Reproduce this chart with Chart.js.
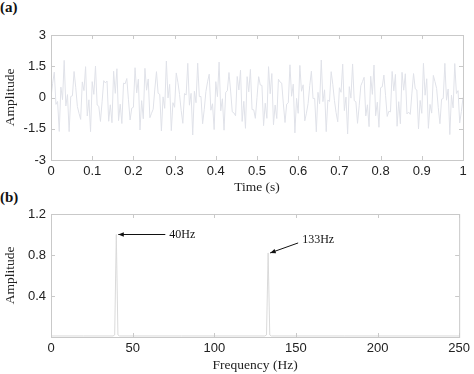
<!DOCTYPE html>
<html>
<head>
<meta charset="utf-8">
<script src="https://cdn.jsdelivr.net/npm/chart.js@4/dist/chart.umd.min.js"></script>
<style>
  html, body { margin: 0; padding: 0; background: #fff; }
  #page { position: relative; width: 474px; height: 374px; overflow: hidden; }
  canvas { position: absolute; left: 0; }
  #chart-a { top: 20px; }
  #chart-b { top: 190px; }
  .tag { position: absolute; left: 0; font: bold 15px "Liberation Serif", serif; color: #111; }
</style>
</head>
<body>
<div id="page">
  <div class="tag" style="top:-1px">(a)</div>
  <div class="tag" style="top:189px">(b)</div>
  <canvas id="chart-a" width="474" height="176"></canvas>
  <canvas id="chart-b" width="474" height="184"></canvas>
</div>
<script>
// --- DATA ---
// (a) time signal, one sample every 4 ms from 0 to 1 s
const sampleStep = 0.004;
const signalValues = [
  0, 0.68, 1.22, -0.33, -0.19, -1.63, 0.50, -0.10, 1.78, -0.41,
  0.14, -1.64, 0.05, 0.08, 1.25, 0.49, -0.43, -0.76, -1.05, 0.75,
  0.33, 1.48, -0.89, -0.11, -1.64, 0.76, 0.15, 1.51, -0.36, -0.42,
  -1.15, -0.21, 0.81, 0.70, 0.79, -1.14, -0.35, -1.21, 1.26, 0.20,
  1.38, -1.11, -0.32, -1.25, 0.69, 0.66, 0.91, -0.11, -1.08, -0.51,
  -0.47, 1.43, 0.22, 0.88, -1.56, -0.15, -1.02, 1.40, 0.35, 0.89,
  -0.97, -0.76, -0.56, 0.40, 1.24, 0.20, 0.15, -1.61, 0.03, -0.52,
  1.75, -0.02, 0.63, -1.59, -0.25, -0.47, 1.18, 0.73, 0.15, -0.63,
  -1.24, 0.19, 0.12, 1.64, -0.37, 0.20, -1.80, 0.30, -0.25, 1.65,
  0.04, 0.05, -1.26, -0.57, 0.29, 0.75, 1.12, -0.61, -0.30, -1.54,
  0.76, 0.04, 1.70, -0.64, -0.06, -1.57, 0.25, 0.32, 1.20, 0.31,
  -0.69, -0.74, -0.88, 1.01, 0.36, 1.31, -1.15, -0.18, -1.48, 1.00,
  0.27, 1.35, -0.58, -0.59, -1.00,
  0, 1.00, 0.60, 0.58, -1.35, -0.27, -1.00, 1.48, 0.18, 1.15,
  -1.31, -0.36, -1.01, 0.88, 0.74, 0.69, -0.31, -1.20, -0.32, -0.25,
  1.57, 0.06, 0.64, -1.70, -0.04, -0.76, 1.54, 0.30, 0.61, -1.12,
  -0.75, -0.29, 0.57, 1.26, -0.05, -0.04, -1.65, 0.25, -0.30, 1.80,
  -0.20, 0.37, -1.64, -0.12, -0.19, 1.24, 0.63, -0.15, -0.73, -1.17,
  0.47, 0.25, 1.60, -0.63, 0.02, -1.75, 0.52, -0.03, 1.61, -0.15,
  -0.20, -1.24, -0.40, 0.56, 0.76, 0.97, -0.89, -0.35, -1.40, 1.02,
  0.15, 1.56, -0.88, -0.22, -1.43, 0.47, 0.51, 1.08, 0.11, -0.91,
  -0.66, -0.69, 1.25, 0.32, 1.11, -1.38, -0.20, -1.26, 1.21, 0.35,
  1.14, -0.79, -0.70, -0.81, 0.21, 1.15, 0.42, 0.36, -1.51, -0.14,
  -0.76, 1.64, 0.11, 0.90, -1.48, -0.33, -0.75, 1.06, 0.76, 0.43,
  -0.49, -1.26, -0.08, -0.05, 1.64, -0.13, 0.41, -1.78, 0.11, -0.50,
  1.63, 0.19, 0.33, -1.22, -0.68, 0
];
const timeTicks = [0, 0.1, 0.2, 0.3, 0.4, 0.5, 0.6, 0.7, 0.8, 0.9, 1];
const amplitudeTicksA = [-3, -1.5, 0, 1.5, 3];

// (b) amplitude spectrum
const spectrumFreqs = [0, 20, 38, 39, 40, 41, 42, 80, 131, 132, 133, 134, 135, 180, 250];
const spectrumAmps  = [0.01, 0.01, 0.01, 0.02, 1.0, 0.02, 0.01, 0.01, 0.01, 0.02, 0.82, 0.02, 0.01, 0.01, 0.01];
const freqTicks = [0, 50, 100, 150, 200, 250];
const amplitudeTicksB = [0, 0.4, 0.8, 1.2];
const peakLabels = ['40Hz', '133Hz'];
const peakFreqs = [40, 133];
const peakAmps = [1.0, 0.82];

// --- STYLE HELPERS ---
const tickFont = { family: '"Liberation Sans", Arial, sans-serif', size: 13 };
const titleFont = { family: '"Liberation Serif", "Times New Roman", serif', size: 13.5 };
const frameColor = '#c9c9c9';

const fmt = v => String(Number(v.toFixed(2)));

/**
 * Draws the gray box around the plot area with small inward tick marks,
 * MATLAB style.
 */
const framePlugin = {
    id: 'frame',
    afterDraw(chart) {
        const { ctx, chartArea: a, scales } = chart;
        ctx.save();
        ctx.strokeStyle = frameColor;
        ctx.lineWidth = 1;
        ctx.strokeRect(a.left + 0.5, a.top + 0.5, a.right - a.left, a.bottom - a.top);
        ctx.beginPath();
        scales.x.ticks.forEach(t => {
            const x = Math.round(scales.x.getPixelForValue(t.value)) + 0.5;
            ctx.moveTo(x, a.bottom); ctx.lineTo(x, a.bottom - 4);
            ctx.moveTo(x, a.top); ctx.lineTo(x, a.top + 4);
        });
        scales.y.ticks.forEach(t => {
            const y = Math.round(scales.y.getPixelForValue(t.value)) + 0.5;
            ctx.moveTo(a.left, y); ctx.lineTo(a.left + 4, y);
            ctx.moveTo(a.right, y); ctx.lineTo(a.right - 4, y);
        });
        ctx.stroke();
        ctx.restore();
    }
};

/**
 * Arrows and labels pointing at the two spectral peaks.
 */
const peakPlugin = {
    id: 'peaks',
    afterDraw(chart) {
        const { ctx, scales } = chart;
        const offsets = [{ dx: 47, dy: 0 }, { dx: 28, dy: -10 }];
        ctx.save();
        ctx.strokeStyle = '#111';
        ctx.fillStyle = '#111';
        ctx.lineWidth = 1;
        ctx.font = '12px "Liberation Serif", serif';
        ctx.textBaseline = 'middle';
        peakLabels.forEach((label, i) => {
            const tipX = scales.x.getPixelForValue(peakFreqs[i]) + 2;
            const tipY = scales.y.getPixelForValue(peakAmps[i]);
            const tailX = tipX + offsets[i].dx;
            const tailY = tipY + offsets[i].dy;
            ctx.beginPath();
            ctx.moveTo(tailX, tailY);
            ctx.lineTo(tipX, tipY);
            ctx.stroke();
            // arrow head
            const ang = Math.atan2(tipY - tailY, tipX - tailX);
            ctx.beginPath();
            ctx.moveTo(tipX, tipY);
            ctx.lineTo(tipX - 6 * Math.cos(ang - 0.4), tipY - 6 * Math.sin(ang - 0.4));
            ctx.lineTo(tipX - 6 * Math.cos(ang + 0.4), tipY - 6 * Math.sin(ang + 0.4));
            ctx.closePath();
            ctx.fill();
            ctx.fillText(label, tailX + 4, tailY - (i ? 3 : 0));
        });
        ctx.restore();
    }
};

function buildScales(xCfg, yCfg) {
    return {
        x: {
            type: 'linear',
            min: xCfg.min, max: xCfg.max,
            afterBuildTicks: s => { s.ticks = xCfg.ticks.map(v => ({ value: v })); },
            afterFit: s => { s.height = xCfg.height; },
            grid: { display: false, drawTicks: false, tickLength: 0 },
            border: { display: false },
            ticks: { font: tickFont, color: '#222', padding: 4, maxRotation: 0, autoSkip: false, callback: fmt },
            title: { display: true, text: xCfg.title, font: titleFont, color: '#222', padding: { top: 0, bottom: 0 } }
        },
        y: {
            min: yCfg.min, max: yCfg.max,
            afterBuildTicks: s => { s.ticks = yCfg.ticks.map(v => ({ value: v })); },
            afterFit: s => { s.width = 51; },
            grid: { display: false, drawTicks: false, tickLength: 0 },
            border: { display: false },
            ticks: { font: tickFont, color: '#222', padding: 5, autoSkip: false, callback: yCfg.callback || fmt },
            title: { display: true, text: 'Amplitude', font: titleFont, color: '#222', padding: { top: 2, bottom: 0 } }
        }
    };
}

// --- CHART (a): time signal ---
function renderTimeChart() {
    const ctx = document.getElementById('chart-a').getContext('2d');
    new Chart(ctx, {
        type: 'line',
        data: {
            datasets: [{
                data: signalValues.map((v, i) => ({ x: i * sampleStep, y: v })),
                borderColor: '#e0e2e9',
                borderWidth: 1,
                pointRadius: 0,
                tension: 0
            }]
        },
        options: {
            responsive: false,
            animation: false,
            devicePixelRatio: 1,
            layout: { padding: { left: 0, right: 11, top: 15, bottom: 0 } },
            plugins: { legend: { display: false }, tooltip: { enabled: false } },
            scales: buildScales(
                { min: 0, max: 1, ticks: timeTicks, title: 'Time (s)', height: 36 },
                { min: -3, max: 3, ticks: amplitudeTicksA }
            )
        },
        plugins: [framePlugin]
    });
}

// --- CHART (b): spectrum ---
function renderSpectrumChart() {
    const ctx = document.getElementById('chart-b').getContext('2d');
    new Chart(ctx, {
        type: 'line',
        data: {
            datasets: [{
                data: spectrumFreqs.map((f, i) => ({ x: f, y: spectrumAmps[i] })),
                borderColor: '#dadada',
                borderWidth: 1,
                pointRadius: 0,
                tension: 0
            }]
        },
        options: {
            responsive: false,
            animation: false,
            devicePixelRatio: 1,
            layout: { padding: { left: 0, right: 11, top: 24, bottom: 0 } },
            plugins: { legend: { display: false }, tooltip: { enabled: false } },
            scales: buildScales(
                { min: 0, max: 250, ticks: freqTicks, title: 'Frequency (Hz)', height: 37 },
                { min: 0, max: 1.2, ticks: amplitudeTicksB, callback: v => (v === 0 ? '' : fmt(v)) }
            )
        },
        plugins: [framePlugin, peakPlugin]
    });
}

renderTimeChart();
renderSpectrumChart();
</script>
</body>
</html>
